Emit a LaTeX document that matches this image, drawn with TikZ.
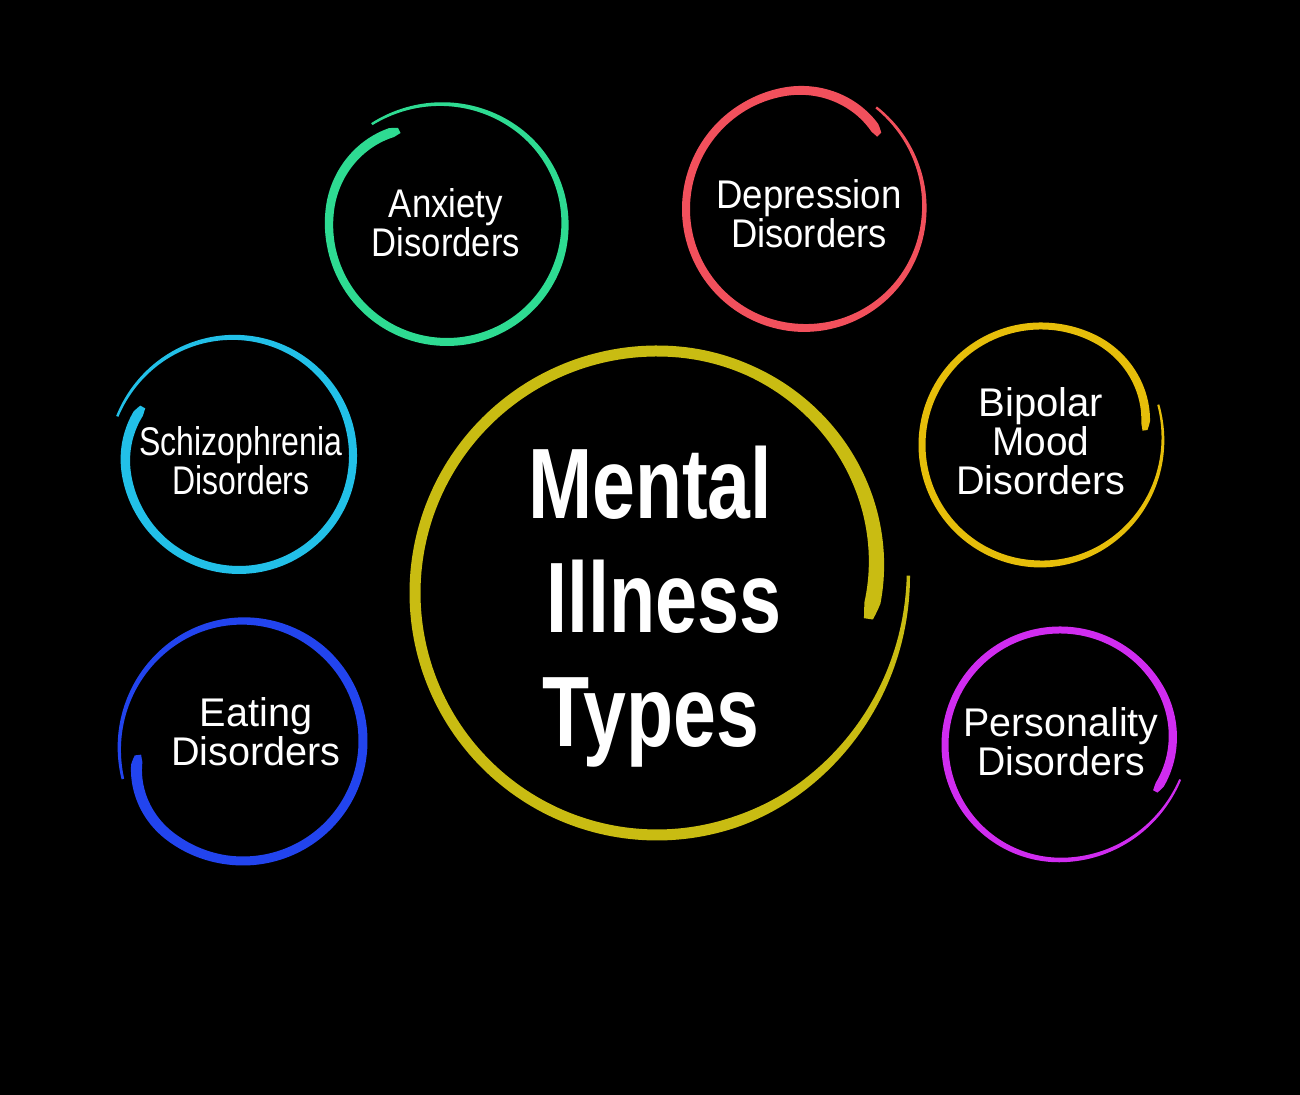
\documentclass[tikz,border=0pt]{standalone}
\usepackage{fontspec}
\setmainfont{Liberation Sans}
\usepackage{graphicx}

\definecolor{cMain}{HTML}{C9BC12}
\definecolor{cAnx}{HTML}{2EDB92}
\definecolor{cDep}{HTML}{F2505C}
\definecolor{cSch}{HTML}{22C0E8}
\definecolor{cBip}{HTML}{E6BE0A}
\definecolor{cEat}{HTML}{2244EE}
\definecolor{cPer}{HTML}{D02CF0}

\pgfkeys{/brush/.cd,
  cx/.store in=\BRx, cy/.store in=\BRy, r/.store in=\BRr, a/.store in=\BRa, s/.store in=\BRs,
  w/.store in=\BRw, ds/.store in=\BRds, fs/.store in=\BRfs, de/.store in=\BRde, fe/.store in=\BRfe,
  wb/.store in=\BRwb, fb/.store in=\BRfb, wt/.store in=\BRwt, ft/.store in=\BRft,
  col/.store in=\BRcol}

\pgfmathdeclarefunction{brr}{1}{\begingroup
  \pgfmathsetmacro\qa{max(0,1-#1/\BRfs)}%
  \pgfmathsetmacro\qb{max(0,(#1-\BRfe)/(1-\BRfe))}%
  \pgfmathparse{\BRr+(\BRds)*\qa*\qa+(\BRde)*\qb*\qb}\pgfmathsmuggle\pgfmathresult\endgroup}
\pgfmathdeclarefunction{brw}{1}{\begingroup
  \pgfmathsetmacro\qa{max(0,1-#1/\BRfb)}%
  \pgfmathsetmacro\qb{max(0,(#1-\BRft)/(1-\BRft))}%
  \pgfmathparse{\BRw*(1+\BRwb*\qa)*(1-\BRwt*\qb)*min(1,0.55+40*#1)}\pgfmathsmuggle\pgfmathresult\endgroup}

\newcommand\brush[1]{%
  \pgfkeys{/brush/.cd, fs=0.15, fe=0.8, wb=0.3, fb=0.2, wt=0.7, ft=0.6, #1}%
  \fill[\BRcol] plot[domain=0:1, samples=260]
    ({\BRx+(brr(\x)+0.5*brw(\x))*cos(\BRa+\BRs*\x)}, {\BRy+(brr(\x)+0.5*brw(\x))*sin(\BRa+\BRs*\x)})
    -- plot[domain=1:0, samples=260]
    ({\BRx+(brr(\x)-0.5*brw(\x))*cos(\BRa+\BRs*\x)}, {\BRy+(brr(\x)-0.5*brw(\x))*sin(\BRa+\BRs*\x)})
    -- cycle;}

\newcommand\hs[2]{\scalebox{#1}[1]{#2}}

\tikzset{
  lbl/.style={text=white, align=center, inner sep=0pt, font=\fontsize{11.38}{11.1}\selectfont},
  ttl/.style={text=white, align=center, inner sep=0pt, font=\fontsize{28.45}{32.4}\selectfont\bfseries}
}

\begin{document}
\begin{tikzpicture}[x=0.01cm, y=0.01cm]
  \fill[black] (0,0) rectangle (1300,1095);
  \useasboundingbox (0,0) rectangle (1300,1095);

  % brush-stroke rings
  \brush{cx=657, cy=502, r=242, a=-7, s=371, w=11, ds=-29, fs=0.25, de=10, fe=0.85, wb=0.5, fb=0.2, wt=0.7, ft=0.8, col=cMain}
  \brush{cx=447, cy=871, r=118, a=117, s=370, w=8, ds=-13, de=7, col=cAnx}
  \brush{cx=805, cy=886, r=119, a=45, s=370, w=8, ds=-14, de=5, col=cDep}
  \brush{cx=239, cy=639, r=114, a=153, s=369, w=8, ds=-6, fs=0.1, de=14, fe=0.55, col=cSch}
  \brush{cx=1041, cy=650, r=119, a=8, s=371, w=7, ds=-14, de=5, ft=0.7, col=cBip}
  \brush{cx=243, cy=354, r=120, a=187.6, s=370, w=9, ds=-14, fs=0.12, de=6, col=cEat}
  \brush{cx=1060, cy=350, r=115, a=-26, s=370, w=7, ds=-9, de=10, col=cPer}

  % labels
  \node[ttl] (main) at (655,488) {\hs{0.77}{Mental}\hspace*{0.1cm}\\\hspace*{0.18cm}\hs{0.755}{Illness}\\\hs{0.77}{Types}\hspace*{0.08cm}};
  \node[lbl] (anx) at (446,872.5) {\hs{0.87}{Anxiety}\\\hs{0.865}{Disorders}};
  \node[lbl] (dep) at (809,881.5) {\hs{0.915}{Depression}\\\hs{0.91}{Disorders}};
  \node[lbl] (sch) at (241,634.5) {\hs{0.80}{Schizophrenia}\\\hs{0.80}{Disorders}};
  \node[lbl] (bip) at (1041,654) {\hs{1.0}{Bipolar}\\\hs{0.97}{Mood}\\\hs{0.99}{Disorders}};
  \node[lbl] (eat) at (256,363.5) {\hs{0.99}{Eating}\\\hs{0.99}{Disorders}};
  \node[lbl] (per) at (1061,353) {\hs{0.985}{Personality}\\\hs{0.98}{Disorders}};
\end{tikzpicture}
\end{document}
